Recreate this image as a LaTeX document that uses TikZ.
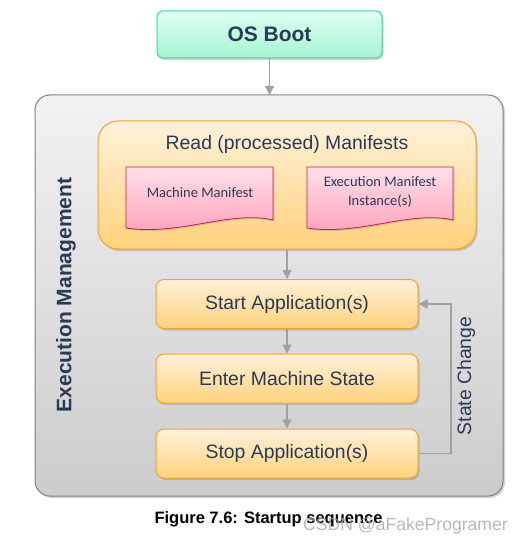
\documentclass[tikz,border=0pt]{standalone}
\usepackage{fontspec}
\setmainfont{Liberation Sans}
\newfontfamily\calib{Carlito}
\usetikzlibrary{shadows,arrows.meta}
\definecolor{navy}{HTML}{2B3A55}
\definecolor{conn}{HTML}{A0A0A0}
\definecolor{mintT}{HTML}{DDFFF1}
\definecolor{mintB}{HTML}{A6F4D3}
\definecolor{mintD}{HTML}{3ED6A0}
\definecolor{orT}{HTML}{FFF1DA}
\definecolor{orB}{HTML}{FFD27C}
\definecolor{orD}{HTML}{F4A42A}
\definecolor{pkT}{HTML}{FFE0E8}
\definecolor{pkB}{HTML}{FFA0BA}
\definecolor{pkD}{HTML}{C41D4E}
\tikzset{
  conn/.style={draw=conn, line width=1.2pt, -{Triangle[length=9pt,width=9pt]}},
  bootbox/.style={draw=mintD, line width=1pt, rounded corners=6pt, top color=mintT, bottom color=mintB,
    drop shadow={shadow xshift=1.5pt, shadow yshift=-2pt, opacity=0.35}},
  orbox/.style={draw=orD, line width=1pt, top color=orT, bottom color=orB,
    drop shadow={shadow xshift=1.5pt, shadow yshift=-2pt, opacity=0.35}},
  docshape/.style={draw=pkD, line width=0.8pt, top color=pkT, bottom color=pkB,
    drop shadow={shadow xshift=1.5pt, shadow yshift=-1.5pt, opacity=0.3}},
  lbl/.style={text=navy, font=\fontsize{19.4}{22}\selectfont},
}
\begin{document}
\begin{tikzpicture}[x=1pt,y=-1pt]
\useasboundingbox (0,0) rectangle (528,545);
% outer container
\path[draw=black!50, line width=1pt, rounded corners=15pt, top color=black!5, bottom color=black!20,
  drop shadow={shadow xshift=2pt, shadow yshift=-2pt, opacity=0.35}] (35,95) rectangle (503,496);
\node[rotate=90, text=navy, font=\fontsize{21}{24}\selectfont\bfseries] (em) at (66,295) {Execution Management};
% OS Boot
\node[bootbox, minimum width=225pt, minimum height=47pt, inner sep=0pt, text=navy,
  font=\fontsize{21}{24}\selectfont\bfseries] (boot) at (269.5,34.5) {OS Boot};
% Manifests container
\node[orbox, rounded corners=20pt, minimum width=378pt, minimum height=128pt, inner sep=0pt] (man) at (287,185) {};
\node[lbl] (mant) at (287,144) {Read (processed) Manifests};
% documents
\path[docshape] (126,167) -- (273,167) -- (273,220) .. controls (230,210) and (180,236) .. (126,228) -- cycle;
\node[text=navy, font=\calib\fontsize{14.5}{17}\selectfont] (mm) at (200,193) {Machine Manifest};
\path[docshape] (307,167) -- (453,167) -- (453,220) .. controls (410,210) and (360,236) .. (307,228) -- cycle;
\node[text=navy, font=\calib\fontsize{14.5}{19}\selectfont, align=center] (emi) at (380,192) {Execution Manifest\\Instance(s)};
% steps
\node[orbox, rounded corners=8pt, minimum width=262pt, minimum height=49pt, inner sep=0pt, lbl] (start) at (287,304) {Start Application(s)};
\node[orbox, rounded corners=8pt, minimum width=262pt, minimum height=49pt, inner sep=0pt, lbl] (enter) at (287,378.5) {Enter Machine State};
\node[orbox, rounded corners=8pt, minimum width=262pt, minimum height=49pt, inner sep=0pt, lbl] (stop) at (287,453.5) {Stop Application(s)};
% connectors
\draw[conn] (boot.south) -- (boot.south |- 0,95);
\draw[conn] (man.south) -- (start.north);
\draw[conn] (start.south) -- (enter.north);
\draw[conn] (enter.south) -- (stop.north);
\coordinate (lp1) at (451,453.5);
\coordinate (lp2) at (451,304);
\draw[conn] (stop.east) -- (lp1) -- (lp2) -- (start.east);
\node[rotate=90, lbl] (sc) at (466,376) {State Change};
% caption
\node[font=\fontsize{16.5}{19}\selectfont\bfseries] (cap) at (268.5,519) {Figure 7.6: Startup sequence};
\node[text=black!35, opacity=0.8, font=\fontsize{17.6}{20}\selectfont] (wm) at (405.5,526) {CSDN @aFakeProgramer};
\end{tikzpicture}
\end{document}
